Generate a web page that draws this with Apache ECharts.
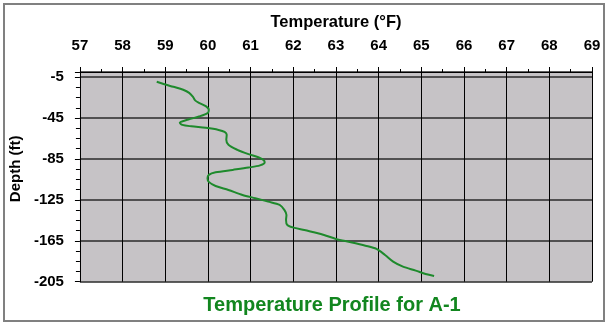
<!DOCTYPE html>
<html>
<head>
<meta charset="utf-8">
<script src="https://cdn.jsdelivr.net/npm/echarts@6/dist/echarts.min.js"></script>
<style>
html,body{margin:0;padding:0;background:#fff;}
#chart{width:612px;height:328px;}
</style>
</head>
<body>
<div id="chart"></div>
<script>
// Temperature (°F) along the profile
const temperature = [58.80, 58.98, 59.19, 59.42, 59.56, 59.65, 59.70, 59.79, 59.95, 60.02,
  60.00, 59.79, 59.54, 59.34, 59.40, 59.61, 59.95, 60.25, 60.39, 60.44,
  60.43, 60.48, 60.69, 60.95, 61.18, 61.30, 61.33, 61.22, 60.95, 60.58,
  60.18, 60.02, 59.99, 60.02, 60.18, 60.48, 60.81, 61.11, 61.41, 61.68,
  61.79, 61.84, 61.83, 61.86, 62.03, 62.26, 62.45, 62.72, 63.00, 63.35,
  63.69, 63.95, 64.15, 64.34, 64.57, 64.87, 65.10, 65.30];
// Depth (ft)
const depth = [-9.6, -12.0, -14.5, -17.4, -20.4, -24.3, -27.7, -30.1, -33.4, -37.0,
  -39.9, -43.5, -46.5, -49.7, -51.7, -53.1, -54.6, -56.6, -58.5, -61.4,
  -66.3, -71.2, -76.1, -80.3, -83.3, -85.9, -88.2, -91.3, -93.4, -95.7,
  -98.1, -100.6, -103.8, -107.4, -111.4, -115.3, -120.2, -123.4, -126.7, -129.9,
  -134.8, -139.7, -144.6, -149.5, -152.4, -154.4, -156.4, -159.3, -163.2, -166.4,
  -169.8, -173.0, -178.9, -185.4, -190.3, -194.2, -197.5, -199.4];
const tempMin = 57, tempMax = 69, tempStep = 1;
const depthMin = -205, depthMax = 0, depthStep = 40;
const xTitle = 'Temperature (°F)';
const yTitle = 'Depth (ft)';
const chartTitle = 'Temperature Profile for A-1';

const FONT = '"Liberation Sans", Arial, sans-serif';
const chart = echarts.init(document.getElementById('chart'), null, {renderer: 'canvas'});
const points = temperature.map((t, i) => [t, depth[i]]);

chart.setOption({
  animation: false,
  backgroundColor: '#ffffff',
  grid: {
    left: 72, right: 20, top: 72, bottom: 46.3,
    show: true, backgroundColor: '#c6c3c6', borderWidth: 0
  },
  xAxis: {
    type: 'value', position: 'top',
    min: tempMin, max: tempMax, interval: tempStep,
    name: xTitle, nameLocation: 'middle', nameGap: 41,
    nameTextStyle: {fontFamily: FONT, fontWeight: 'bold', fontSize: 16.5, color: '#000'},
    axisLine: {show: true, lineStyle: {color: '#000', width: 1}},
    axisTick: {show: true, length: 5, lineStyle: {color: '#000'}},
    minorTick: {show: true, splitNumber: 2, length: 3, lineStyle: {color: '#000'}},
    axisLabel: {fontFamily: FONT, fontWeight: 'bold', fontSize: 15, color: '#000', margin: 19},
    splitLine: {show: true, lineStyle: {color: '#000', width: 1}}
  },
  yAxis: {
    type: 'value',
    min: depthMin, max: depthMax, interval: depthStep,
    name: yTitle, nameLocation: 'middle', nameGap: 42,
    nameTextStyle: {fontFamily: FONT, fontWeight: 'bold', fontSize: 15, color: '#000', padding: [0, 0, 0, 16]},
    axisLine: {show: true, lineStyle: {color: '#000', width: 1}},
    axisTick: {show: true, length: 5, lineStyle: {color: '#000'}},
    minorTick: {show: true, splitNumber: 4, length: 4, lineStyle: {color: '#000'}},
    axisLabel: {fontFamily: FONT, fontWeight: 'bold', fontSize: 15, color: '#000', margin: 16,
      formatter: v => (v === depthMax ? '' : String(v))},
    splitLine: {show: true, lineStyle: {color: '#2a2a2a', width: 1.5}}
  },
  series: [{
    type: 'line',
    data: points,
    showSymbol: false,
    smooth: 0.3,
    lineStyle: {color: '#1e8a2c', width: 2}
  }],
  graphic: [
    {
      type: 'rect', silent: true, z: -1,
      shape: {x: 4, y: 4, width: 600, height: 317},
      style: {fill: null, stroke: '#808080', lineWidth: 2}
    },
    {
      type: 'text', silent: true,
      x: 332, y: 305,
      style: {text: chartTitle, fill: '#12861f', font: 'bold 20px ' + FONT,
        align: 'center', verticalAlign: 'middle'}
    }
  ]
});
</script>
</body>
</html>
